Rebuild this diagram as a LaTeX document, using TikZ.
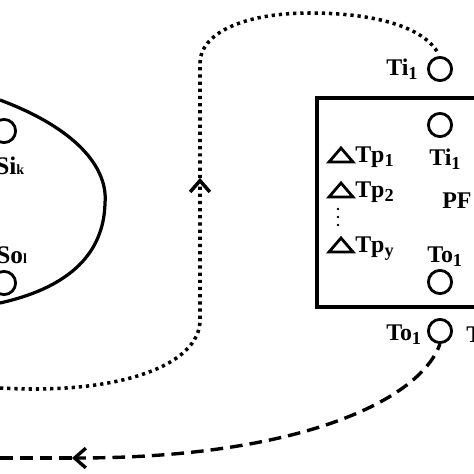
\documentclass[tikz,border=0pt]{standalone}
\usepackage{fontspec}
\setmainfont{Liberation Serif}
\usetikzlibrary{arrows.meta}

\newcommand{\lsub}[1]{\raisebox{-0.45ex}{\fontsize{13}{15}\selectfont #1}}
\newcommand{\ssub}[1]{{\fontsize{10}{12}\selectfont #1}}

\begin{document}
\begin{tikzpicture}[x=0.025cm, y=-0.025cm,
  port/.style={draw, circle, line width=2pt, minimum size=16.5pt, inner sep=0pt},
  lbl/.style={anchor=base west, inner sep=0pt, font=\fontsize{17}{20}\selectfont\bfseries},
  biglbl/.style={anchor=base west, inner sep=0pt, font=\fontsize{18}{21}\selectfont\bfseries},
  dots/.style={line width=2.5pt, dash pattern=on 2.3pt off 2.8pt},
  dashes/.style={line width=2.4pt, dash pattern=on 9pt off 5pt},
  tip/.style={-{Straight Barb[length=8pt,width=14pt]}}]
\useasboundingbox (0,0) rectangle (474,474);
\clip (0,0) rectangle (474,474);

% left block, cut by the border
\draw[line width=2.3pt] (0,100) .. controls (80,130) and (108,170) .. (105,203)
  .. controls (104,245) and (80,285) .. (0,303);
\node[port] (si) at (4,131) {};
\node[port] (so) at (4,283) {};
\node[biglbl] (sik) at (-5,174) {Si\ssub{k}};
\node[biglbl] (sol) at (-4,263) {So\ssub{l}};

% right block
\draw[line width=2.3pt] (317,98) rectangle (520,307);
\node[port] (tiin) at (440,125) {};
\node[port] (toin) at (440,282) {};
\node[lbl] (tilbl) at (429,165) {Ti\lsub{1}};
\node[lbl] (tolbl) at (427,262) {To\lsub{1}};
\node[lbl] (pf) at (442,208) {PF};
\foreach \y/\s in {162/1, 197/2, 252/y} {
  \draw[line width=2pt] (329,\y) -- (341,\y-14) -- (353,\y) -- cycle;
  \node[lbl] (tp\s) at (355,\y) {Tp\lsub{\s}};
}
\foreach \y in {209,217,225}
  \fill (338,\y) circle (1.4);

% outer ports
\node[port] (tiout) at (440,69) {};
\node[port] (toout) at (440,331) {};
\node[lbl] (tiolbl) at (386,75) {Ti\lsub{1}};
\node[lbl] (toolbl) at (386,340) {To\lsub{1}};
\node[lbl] (tright) at (466,342) {T};

% links
\coordinate (w1) at (0,388);
\coordinate (up) at (200,178);
\coordinate (w2) at (0,458);
\coordinate (back) at (72,458);

\draw[dots, tip] (w1) .. controls (120,395) and (200,365) .. (200,320) -- (up);
\draw[dots, shorten >=4pt] (up) -- (200,63) .. controls (200,35) and (240,13) .. (310,13)
  .. controls (370,13) and (420,25) .. (tiout.north);
\draw[dashes, dash phase=4.5pt, tip] (toout.south) .. controls (420,400) and (300,458) .. (back);
\draw[dashes] (back) -- (w2);
\end{tikzpicture}
\end{document}
